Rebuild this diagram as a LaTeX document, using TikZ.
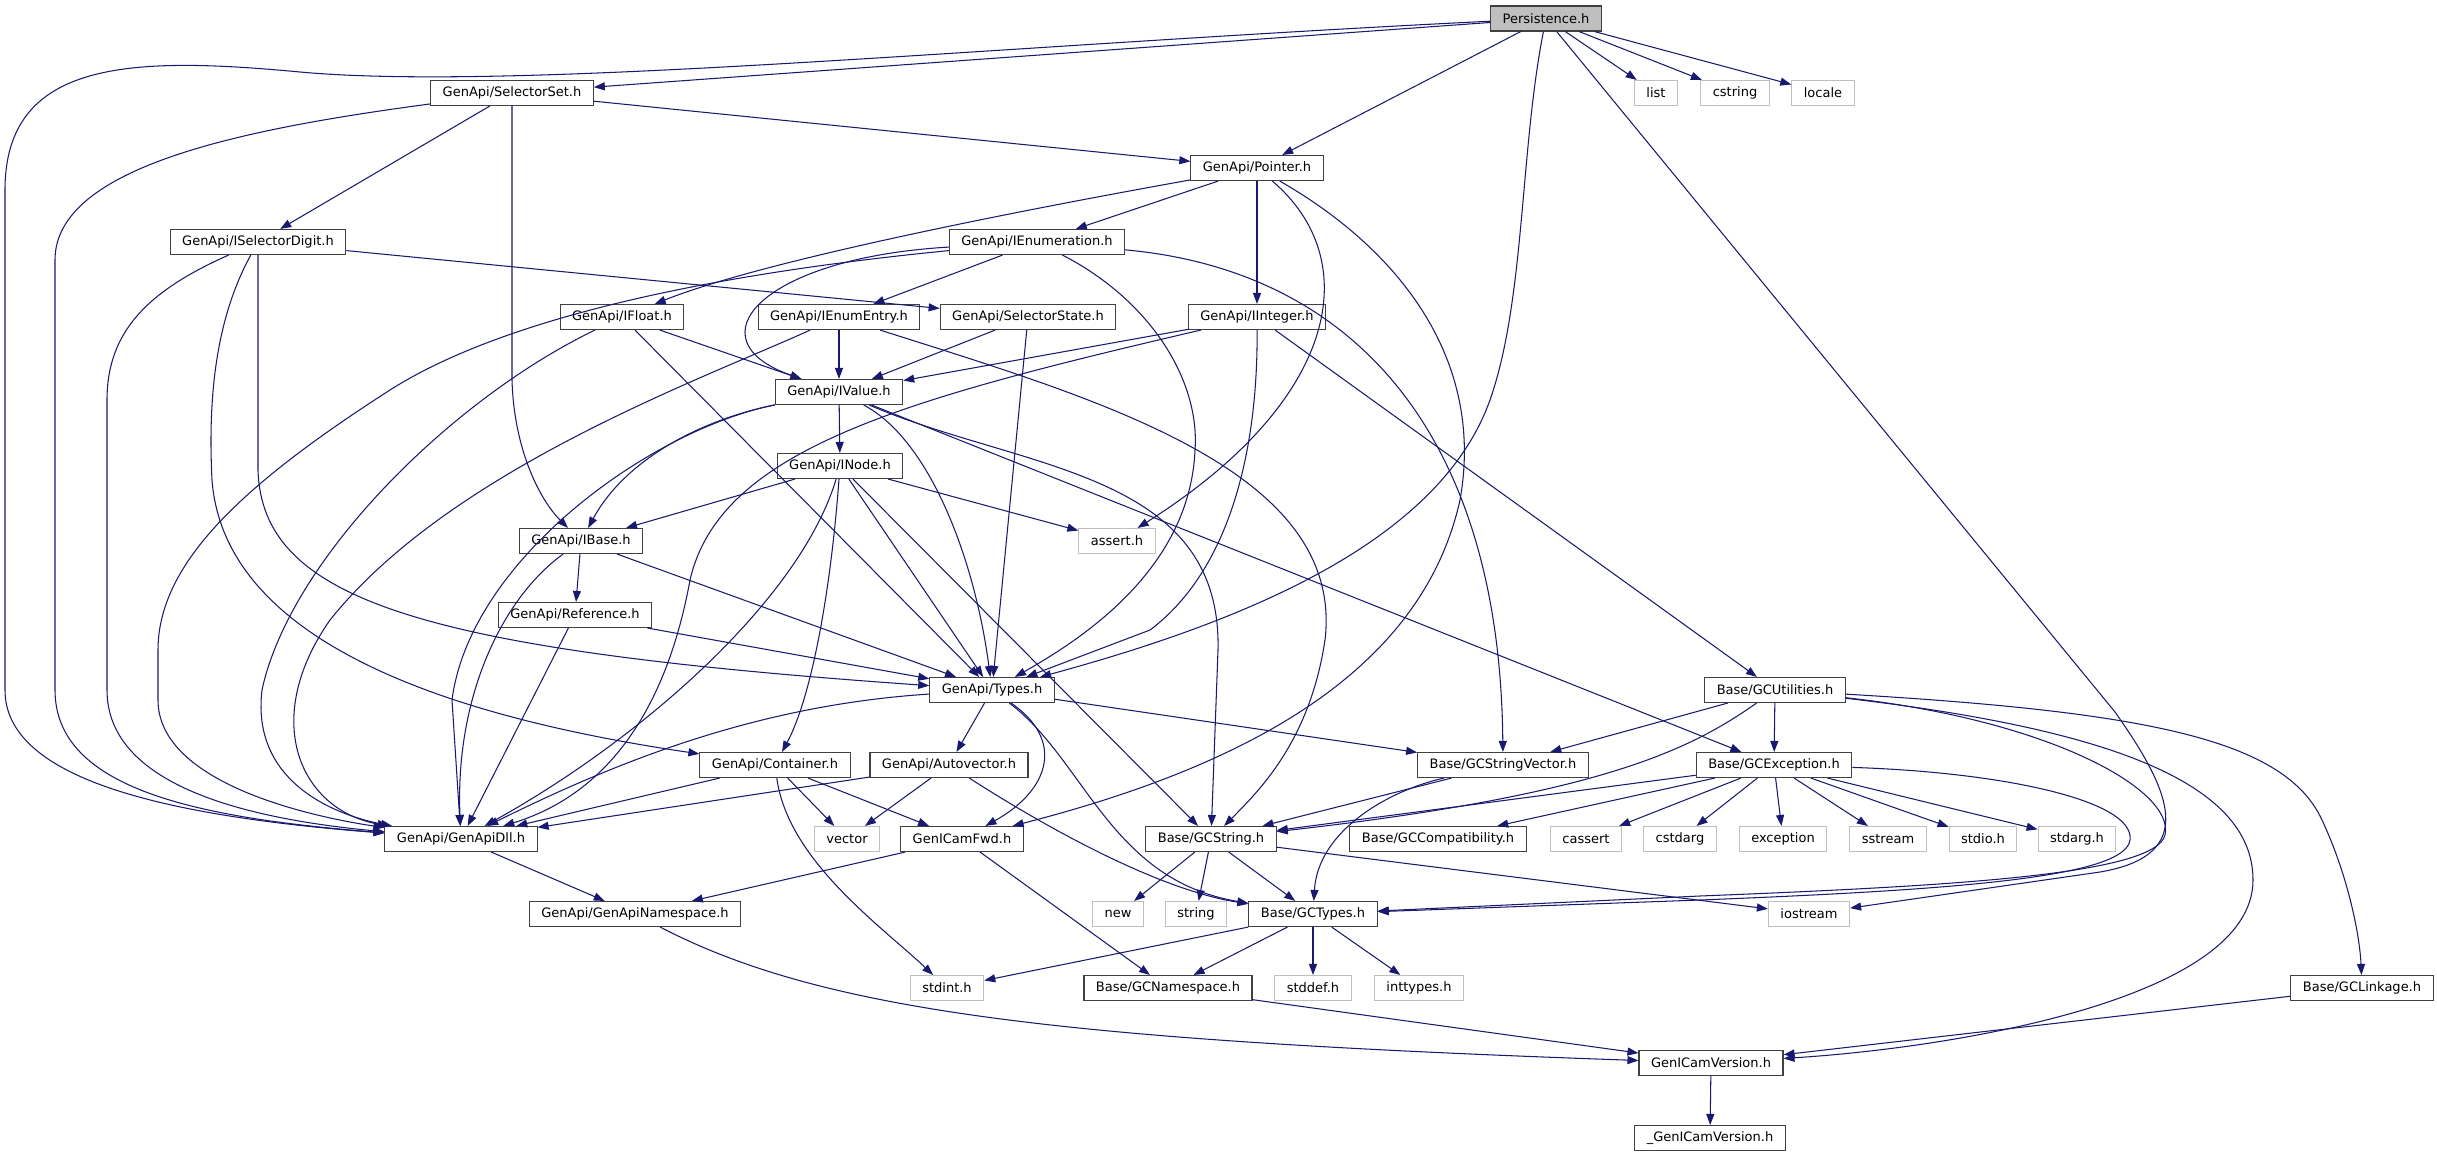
\documentclass[tikz,border=0pt]{standalone}
\usepackage{fontspec}
\setmainfont{DejaVu Sans}
\usetikzlibrary{arrows.meta}
\definecolor{midblue}{HTML}{191970}
\definecolor{boxgrey}{HTML}{BFBFBF}

\begin{document}
\begin{tikzpicture}[x=1pt,y=-1pt]
    \tikzstyle{file node} = [draw=black!75,line width=1.1pt,fill=white,minimum height=25pt,inner xsep=12pt,inner ysep=0pt,font=\fontsize{13}{15}\selectfont]
    \tikzstyle{sys node} = [file node,draw=boxgrey]
    \tikzstyle{root node} = [file node,fill=boxgrey]
    \tikzstyle{inc edge} = [draw=midblue,line width=1.05pt,-{Triangle[length=11pt,width=8pt]}]

      \fill[white] (0,0) rectangle (2437,1157);

      \node[root node] (persistence)    at (1546,18.5) {Persistence.h};
      \node[file node] (selectorset)    at (512,93)    {GenApi/SelectorSet.h};
      \node[sys node]  (list)           at (1656,93)   {list};
      \node[sys node]  (cstring)        at (1735,93)   {cstring};
      \node[sys node]  (locale)         at (1823,93)   {locale};
      \node[file node] (pointer)        at (1257,168)  {GenApi/Pointer.h};
      \node[file node] (iselectordigit) at (258,242)   {GenApi/ISelectorDigit.h};
      \node[file node] (ienumeration)   at (1037,242)  {GenApi/IEnumeration.h};
      \node[file node] (ifloat)         at (622,317)   {GenApi/IFloat.h};
      \node[file node] (ienumentry)     at (839,317)   {GenApi/IEnumEntry.h};
      \node[file node] (selectorstate)  at (1028,317)  {GenApi/SelectorState.h};
      \node[file node] (iinteger)       at (1257,317)  {GenApi/IInteger.h};
      \node[file node] (ivalue)         at (839,392)   {GenApi/IValue.h};
      \node[file node] (inode)          at (840,466)   {GenApi/INode.h};
      \node[file node] (ibase)          at (581,541)   {GenApi/IBase.h};
      \node[sys node]  (assert)         at (1117,541)  {assert.h};
      \node[file node] (reference)      at (575,615)   {GenApi/Reference.h};
      \node[file node] (types)          at (992,690)   {GenApi/Types.h};
      \node[file node] (gcutilities)    at (1775,690)  {Base/GCUtilities.h};
      \node[file node] (container)      at (775,765)   {GenApi/Container.h};
      \node[file node] (autovector)     at (949,765)   {GenApi/Autovector.h};
      \node[file node] (gcstringvector) at (1503,765)  {Base/GCStringVector.h};
      \node[file node] (gcexception)    at (1774,765)  {Base/GCException.h};
      \node[file node] (genapidll)      at (461,839)   {GenApi/GenApiDll.h};
      \node[sys node]  (vector)         at (847,839)   {vector};
      \node[file node] (genicamfwd)     at (962,839)   {GenICamFwd.h};
      \node[file node] (gcstring)       at (1211,839)  {Base/GCString.h};
      \node[file node] (gccompat)       at (1438,839)  {Base/GCCompatibility.h};
      \node[sys node]  (cassert)        at (1586,839)  {cassert};
      \node[sys node]  (cstdarg)        at (1680,839)  {cstdarg};
      \node[sys node]  (exception)      at (1783,839)  {exception};
      \node[sys node]  (sstream)        at (1888,839)  {sstream};
      \node[sys node]  (stdio)          at (1983,839)  {stdio.h};
      \node[sys node]  (stdarg)         at (2077,839)  {stdarg.h};
      \node[file node] (genapins)       at (635,914)   {GenApi/GenApiNamespace.h};
      \node[sys node]  (new)            at (1118,914)  {new};
      \node[sys node]  (string)         at (1196,914)  {string};
      \node[file node] (gctypes)        at (1313,914)  {Base/GCTypes.h};
      \node[sys node]  (iostream)       at (1809,914)  {iostream};
      \node[sys node]  (stdint)         at (947,988)   {stdint.h};
      \node[file node] (gcnamespace)    at (1168,988)  {Base/GCNamespace.h};
      \node[sys node]  (stddef)         at (1313,988)  {stddef.h};
      \node[sys node]  (inttypes)       at (1419,988)  {inttypes.h};
      \node[file node] (gclinkage)      at (2362,988)  {Base/GCLinkage.h};
      \node[file node] (gcversion)      at (1711,1063) {GenICamVersion.h};
      \node[file node] (gcversionx)     at (1710,1138) {\_GenICamVersion.h};

      % Persistence.h
      \draw[inc edge] (persistence) -- (selectorset);
      \draw[inc edge] (persistence) .. controls (1000,45) and (520,92) .. (300,72) .. controls (130,56) and (5,60) .. (5,190) -- (5,690) .. controls (5,775) and (150,815) .. (genapidll);
      \draw[inc edge] (persistence) -- (pointer);
      \draw[inc edge] (persistence) .. controls (1520,150) and (1525,300) .. (1490,400) .. controls (1440,540) and (1250,620) .. (types);
      \draw[inc edge] (persistence) -- (2115,712) .. controls (2170,790) and (2200,855) .. (2100,872) -- (iostream);
      \draw[inc edge] (persistence) -- (list);
      \draw[inc edge] (persistence) -- (cstring);
      \draw[inc edge] (persistence) -- (locale);

      % SelectorSet.h
      \draw[inc edge] (selectorset) -- (pointer);
      \draw[inc edge] (selectorset) -- (iselectordigit);
      \draw[inc edge] (selectorset.south) -- (512,380) .. controls (514,450) and (540,500) .. (ibase);
      \draw[inc edge] (selectorset) .. controls (250,128) and (55,165) .. (55,260) -- (55,690) .. controls (55,790) and (200,818) .. (genapidll);

      % ISelectorDigit.h
      \draw[inc edge] (iselectordigit) .. controls (150,290) and (107,330) .. (107,400) -- (107,690) .. controls (107,790) and (260,820) .. (genapidll);
      \draw[inc edge] (iselectordigit) .. controls (215,320) and (208,400) .. (212,480) .. controls (225,650) and (470,720) .. (container);
      \draw[inc edge] (iselectordigit.south) -- (258,470) .. controls (262,600) and (420,650) .. (types);
      \draw[inc edge] (iselectordigit) -- (selectorstate);

      % Pointer.h
      \draw[inc edge] (pointer) .. controls (1000,214) and (760,262) .. (ifloat);
      \draw[inc edge] (pointer) -- (ienumeration);
      \draw[inc edge] (pointer) -- (iinteger);
      \draw[inc edge] (pointer) .. controls (1365,260) and (1340,400) .. (assert);
      \draw[inc edge] (pointer) .. controls (1400,250) and (1485,360) .. (1460,500) .. controls (1420,680) and (1230,770) .. (genicamfwd);

      % IEnumeration.h
      \draw[inc edge] (ienumeration) -- (ienumentry);
      \draw[inc edge] (ienumeration) .. controls (760,258) and (690,340) .. (ivalue);
      \draw[inc edge] (ienumeration) .. controls (700,275) and (500,320) .. (390,390) .. controls (250,480) and (158,560) .. (158,650) -- (158,700) .. controls (158,780) and (300,815) .. (genapidll);
      \draw[inc edge] (ienumeration) .. controls (1150,300) and (1200,380) .. (1195,450) .. controls (1190,570) and (1080,640) .. (types);
      \draw[inc edge] (ienumeration) .. controls (1350,270) and (1500,430) .. (gcstringvector);

      % IFloat.h
      \draw[inc edge] (ifloat) -- (ivalue);
      \draw[inc edge] (ifloat) -- (types);
      \draw[inc edge] (ifloat) .. controls (450,400) and (290,560) .. (262,690) .. controls (250,790) and (350,818) .. (genapidll);

      % IEnumEntry.h
      \draw[inc edge] (ienumentry) -- (ivalue);
      \draw[inc edge] (ienumentry) .. controls (700,380) and (450,470) .. (330,620) .. controls (260,720) and (300,810) .. (genapidll);
      \draw[inc edge] (ienumentry) .. controls (1100,400) and (1345,470) .. (1325,640) .. controls (1310,740) and (1260,790) .. (gcstring);

      % SelectorState.h
      \draw[inc edge] (selectorstate) -- (ivalue);
      \draw[inc edge] (selectorstate) -- (types);

      % IInteger.h
      \draw[inc edge] (iinteger) -- (ivalue);
      \draw[inc edge] (iinteger) .. controls (900,400) and (720,450) .. (690,580) .. controls (670,690) and (620,790) .. (genapidll);
      \draw[inc edge] (iinteger) .. controls (1258,450) and (1230,570) .. (1150,630) -- (types);
      \draw[inc edge] (iinteger) -- (gcutilities);

      % IValue.h
      \draw[inc edge] (ivalue) -- (inode);
      \draw[inc edge] (ivalue) .. controls (700,420) and (625,460) .. (ibase);
      \draw[inc edge] (ivalue) .. controls (650,430) and (470,560) .. (452,700) -- (genapidll);
      \draw[inc edge] (ivalue) .. controls (930,440) and (975,560) .. (types);
      \draw[inc edge] (ivalue) .. controls (1020,470) and (1222,470) .. (1218,650) -- (gcstring);
      \draw[inc edge] (ivalue) -- (gcexception);

      % INode.h
      \draw[inc edge] (inode) -- (ibase);
      \draw[inc edge] (inode) -- (assert);
      \draw[inc edge] (inode) -- (types);
      \draw[inc edge] (inode) .. controls (830,600) and (810,700) .. (container);
      \draw[inc edge] (inode) .. controls (800,600) and (640,740) .. (genapidll);
      \draw[inc edge] (inode) -- (gcstring);

      % IBase.h, Reference.h
      \draw[inc edge] (ibase) -- (reference);
      \draw[inc edge] (ibase) -- (types);
      \draw[inc edge] (ibase) .. controls (500,600) and (455,700) .. (genapidll);
      \draw[inc edge] (reference) -- (types);
      \draw[inc edge] (reference) -- (genapidll);

      % Types.h
      \draw[inc edge] (types) .. controls (760,705) and (620,760) .. (genapidll);
      \draw[inc edge] (types) -- (autovector);
      \draw[inc edge] (types) .. controls (1065,740) and (1050,790) .. (genicamfwd);
      \draw[inc edge] (types) .. controls (1085,760) and (1110,880) .. (gctypes);
      \draw[inc edge] (types) -- (gcstringvector);

      % GCUtilities.h
      \draw[inc edge] (gcutilities) -- (gcstringvector);
      \draw[inc edge] (gcutilities) .. controls (1690,750) and (1600,795) .. (gcstring);
      \draw[inc edge] (gcutilities) -- (gcexception);
      \draw[inc edge] (gcutilities) .. controls (2050,720) and (2175,790) .. (2165,835) .. controls (2155,875) and (1950,886) .. (1700,896) -- (gctypes);
      \draw[inc edge] (gcutilities) .. controls (2100,728) and (2253,780) .. (2253,880) .. controls (2253,1000) and (1950,1048) .. (gcversion);
      \draw[inc edge] (gcutilities) .. controls (2150,712) and (2285,740) .. (2322,820) .. controls (2350,880) and (2360,940) .. (gclinkage);

      % GCException.h
      \draw[inc edge] (gcexception) -- (gcstring);
      \draw[inc edge] (gcexception) -- (gccompat);
      \draw[inc edge] (gcexception) -- (cassert);
      \draw[inc edge] (gcexception) -- (cstdarg);
      \draw[inc edge] (gcexception) -- (exception);
      \draw[inc edge] (gcexception) -- (sstream);
      \draw[inc edge] (gcexception) -- (stdio);
      \draw[inc edge] (gcexception) -- (stdarg);
      \draw[inc edge] (gcexception) .. controls (2000,772) and (2135,800) .. (2130,840) .. controls (2125,878) and (1950,890) .. (1700,900) -- (gctypes);

      % GCString.h, GCStringVector.h
      \draw[inc edge] (gcstring) -- (new);
      \draw[inc edge] (gcstring) -- (string);
      \draw[inc edge] (gcstring) -- (gctypes);
      \draw[inc edge] (gcstring) -- (iostream);
      \draw[inc edge] (gcstringvector) -- (gcstring);
      \draw[inc edge] (gcstringvector) .. controls (1390,790) and (1318,830) .. (gctypes);

      % Container.h, Autovector.h
      \draw[inc edge] (container) -- (genapidll);
      \draw[inc edge] (container) -- (vector);
      \draw[inc edge] (container) -- (genicamfwd);
      \draw[inc edge] (container) .. controls (788,860) and (880,925) .. (stdint);
      \draw[inc edge] (autovector) -- (genapidll);
      \draw[inc edge] (autovector) -- (vector);
      \draw[inc edge] (autovector) .. controls (1050,830) and (1160,890) .. (gctypes);

      % lower part
      \draw[inc edge] (genicamfwd) -- (genapins);
      \draw[inc edge] (genicamfwd) -- (gcnamespace);
      \draw[inc edge] (genapidll) -- (genapins);
      \draw[inc edge] (genapins) .. controls (820,1010) and (1050,1040) .. (gcversion);
      \draw[inc edge] (gctypes) -- (gcnamespace);
      \draw[inc edge] (gctypes) -- (stddef);
      \draw[inc edge] (gctypes) -- (inttypes);
      \draw[inc edge] (gctypes) -- (stdint);
      \draw[inc edge] (gcnamespace) -- (gcversion);
      \draw[inc edge] (gclinkage) -- (gcversion);
      \draw[inc edge] (gcversion) -- (gcversionx);
\end{tikzpicture}
\end{document}
